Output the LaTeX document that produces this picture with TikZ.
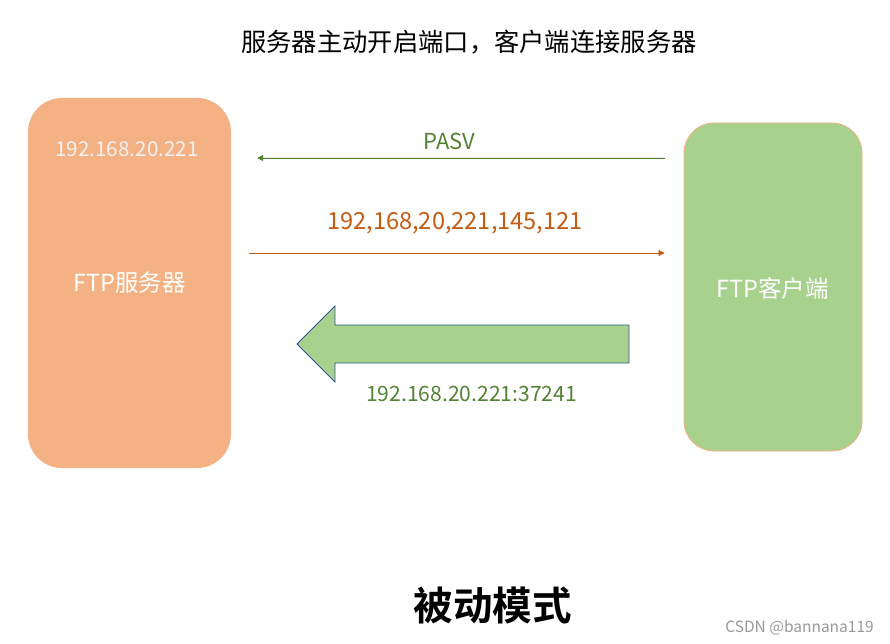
\documentclass[tikz,border=0pt]{standalone}
\usepackage{fontspec}
\setmainfont{Noto Sans CJK SC}
\newfontfamily\cjkb{Noto Sans CJK SC}[BoldFont=* Bold]
\usetikzlibrary{arrows.meta}
\definecolor{boxorange}{HTML}{F4B183}
\definecolor{boxgreen}{HTML}{A9D18E}
\definecolor{txtgreen}{HTML}{548235}
\definecolor{txtorange}{HTML}{C55A11}
\definecolor{arrblue}{HTML}{2F5597}
\definecolor{offwhite}{HTML}{F2F2F2}
\tikzset{
  hostbox/.style={rectangle, rounded corners=34pt, inner sep=0pt},
  plain/.style={inner sep=0pt, anchor=center},
  msg/.style={-{Triangle[length=6pt,width=6pt]}, line width=0.8pt},
}
\begin{document}
\begin{tikzpicture}[x=1pt,y=-1pt]
\useasboundingbox (0,0) rectangle (890,644);
\fill[white] (0,0) rectangle (890,644);
% title
\node[plain, font=\fontsize{25.3}{27}\selectfont] (title) at (469,42) {服务器主动开启端口，客户端连接服务器};
% server box
\node[hostbox, fill=boxorange, minimum width=203pt, minimum height=370pt] (server) at (129.5,283) {};
\node[plain, text=white, font=\fontsize{23.5}{25}\selectfont] (serverlbl) at (129.5,283) {FTP服务器};
\node[plain, text=offwhite, font=\fontsize{20.6}{22}\selectfont] (serverip) at (127,149) {192.168.20.221};
% client box
\node[hostbox, rounded corners=30pt, fill=boxgreen, draw=boxorange, line width=0.8pt, minimum width=178pt, minimum height=328pt] (client) at (773,287) {};
\node[plain, text=white, font=\fontsize{23.5}{25}\selectfont] (clientlbl) at (772.5,289) {FTP客户端};
% PASV arrow
\coordinate (pasvS) at ([xshift=-19pt]client.west |- 0,158);
\coordinate (pasvE) at ([xshift=26pt]server.east |- 0,158);
\draw[msg, draw=txtgreen, fill=txtgreen] (pasvS) -- (pasvE);
\node[plain, text=txtgreen, font=\fontsize{22}{24}\selectfont] (pasv) at (449.5,141) {PASV};
% address arrow
\coordinate (addrS) at ([xshift=18pt]server.east |- 0,253);
\coordinate (addrE) at ([xshift=-19pt]client.west |- 0,253);
\draw[msg, draw=txtorange, fill=txtorange] (addrS) -- (addrE);
\node[plain, text=txtorange, font=\fontsize{23.6}{25}\selectfont] (addr) at (455,223) {192,168,20,221,145,121};
% big arrow
\draw[fill=boxgreen, draw=arrblue, line width=0.8pt, line join=miter]
  (629,325) -- (335,325) -- (335,306) -- (297,344) -- (335,382) -- (335,363) -- (629,363) -- cycle;
\node[plain, text=txtgreen, font=\fontsize{21.1}{23}\selectfont] (port) at (471.5,394) {192.168.20.221:37241};
% bottom title
\node[plain, font=\cjkb\bfseries\fontsize{39.5}{41}\selectfont] (mode) at (492.5,605) {被动模式};
\node[plain, text=gray!80, font=\fontsize{15.5}{17}\selectfont] (wm) at (799.5,628) {CSDN @bannana119};
\end{tikzpicture}
\end{document}
